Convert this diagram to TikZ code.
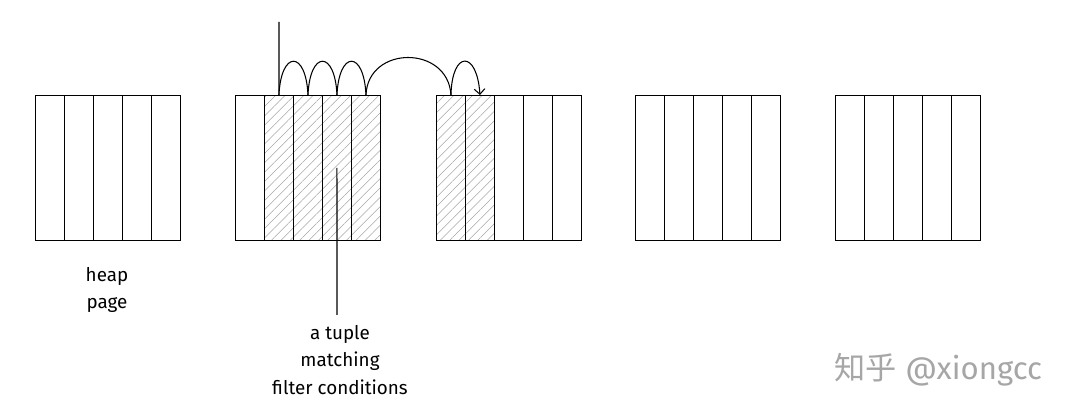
\documentclass[tikz,border=0pt]{standalone}
\usepackage{fontspec}
\setmainfont{Fira Sans}
\newfontfamily\cjk{Noto Sans CJK SC}
\usetikzlibrary{patterns.meta,arrows.meta}
\begin{document}
\begin{tikzpicture}[x=0.0265cm,y=-0.0265cm,
  cell/.style={draw,line width=0.7pt},
  hat/.style={cell,pattern={Lines[angle=45,distance=5pt,line width=0.4pt]},pattern color=gray!70},
  lbl/.style={font=\fontsize{14.2}{20.5}\selectfont,align=center},
  arc/.style={line width=0.8pt}]
\useasboundingbox (0,0) rectangle (1080,418);
\foreach \p/\x in {1/35,2/235,3/436,4/635,5/835}{
  \foreach \c in {0,...,4}{
    \node[cell,minimum width=0.0265cm*29,minimum height=0.0265cm*145,inner sep=0,anchor=north west] (p\p c\c) at (\x+\c*29,95) {};
  }
}
\foreach \c in {1,...,4}{\node[hat,minimum width=0.0265cm*29,minimum height=0.0265cm*145,inner sep=0,anchor=north west] at (p2c\c.north west) {};}
\foreach \c in {0,1}{\node[hat,minimum width=0.0265cm*29,minimum height=0.0265cm*145,inner sep=0,anchor=north west] at (p3c\c.north west) {};}
\coordinate (top) at (279,22);
\draw[arc] (top) -- (p2c1.north);
\draw[arc] (p2c1.north) .. controls (281,50) and (306,50) .. (p2c2.north);
\draw[arc] (p2c2.north) .. controls (310,50) and (335,50) .. (p2c3.north);
\draw[arc] (p2c3.north) .. controls (339,50) and (364,50) .. (p2c4.north);
\draw[arc] (p2c4.north) .. controls (368,45) and (448,45) .. (p3c0.north);
\draw[arc,-{Straight Barb[length=4pt,width=8pt]}] (p3c0.north) .. controls (452,50) and (477,50) .. (p3c1.north);
\node[lbl] (hp) at (107,290) {heap\\page};
\node[lbl] (tp) at (340,360) {a tuple\\matching\\filter conditions};
\draw[line width=0.8pt,black] (p2c3.center) -- (337,315);
\node[font=\fontsize{23.5}{25}\selectfont,text=gray!70,anchor=west] (wm) at (830,370) {{\cjk 知乎} @xiongcc};
\end{tikzpicture}
\end{document}
